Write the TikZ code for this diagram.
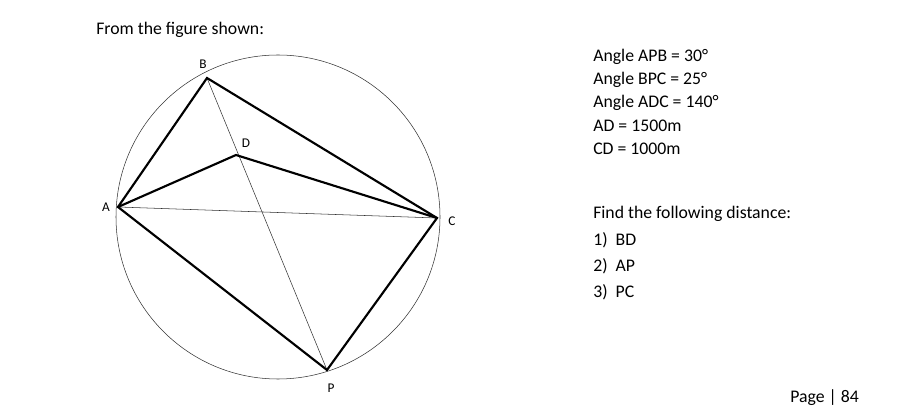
\documentclass[tikz,border=0pt]{standalone}
\usepackage{fontspec}
\setmainfont{Carlito}
\usetikzlibrary{calc}

\begin{document}
\begin{tikzpicture}[x=0.75pt, y=-0.75pt,
	thick line/.style={line width=1.6pt},
	thin line/.style={line width=0.4pt, black!80},
	pt label/.style={font=\fontsize{10}{12}\selectfont},
	txt/.style={anchor=west, font=\fontsize{13.3}{16}\selectfont, inner sep=0pt}]
	\useasboundingbox (0,0) rectangle (924,416);
	% Points on and in the circle
	\coordinate (O) at (278,217);
	\coordinate (B) at (207,78);
	\coordinate (A) at (118,207);
	\coordinate (C) at (437,218);
	\coordinate (P) at (327,370);
	\coordinate (D) at (236,155);
	
	% Circle and thin chords
	\draw [thin line] (O) circle (162);
	\draw [thin line] (A) -- (C);
	\draw [thin line] (B) -- (P);
	
	% Thick sides
	\draw [thick line, line join=miter] (A) -- (B) -- (C) -- (P) -- cycle;
	\draw [thick line] (A) -- (D) -- (C);
	
	% Labels
	\node [pt label] (lB) at (203,64)  {B};
	\node [pt label] (lA) at (106,207) {A};
	\node [pt label] (lC) at (452,221) {C};
	\node [pt label] (lP) at (331,388) {P};
	\node [pt label] (lD) at (246,143) {D};
	
	% Text
	\node [txt] (title) at (96,30)  {From the figure shown:};
	\node [txt] (g1) at (593,57)  {Angle APB = 30°};
	\node [txt] (g2) at (593,80)  {Angle BPC = 25°};
	\node [txt] (g3) at (593,103) {Angle ADC = 140°};
	\node [txt] (g4) at (593,126) {AD = 1500m};
	\node [txt] (g5) at (593,149) {CD = 1000m};
	\node [txt] (f0) at (593,214) {Find the following distance:};
	\node [txt] (f1) at (593,240) {1)\ \ BD};
	\node [txt] (f2) at (593,266) {2)\ \ AP};
	\node [txt] (f3) at (593,292) {3)\ \ PC};
	\node [txt] (page) at (790,398) {Page | 84};
\end{tikzpicture}
\end{document}
